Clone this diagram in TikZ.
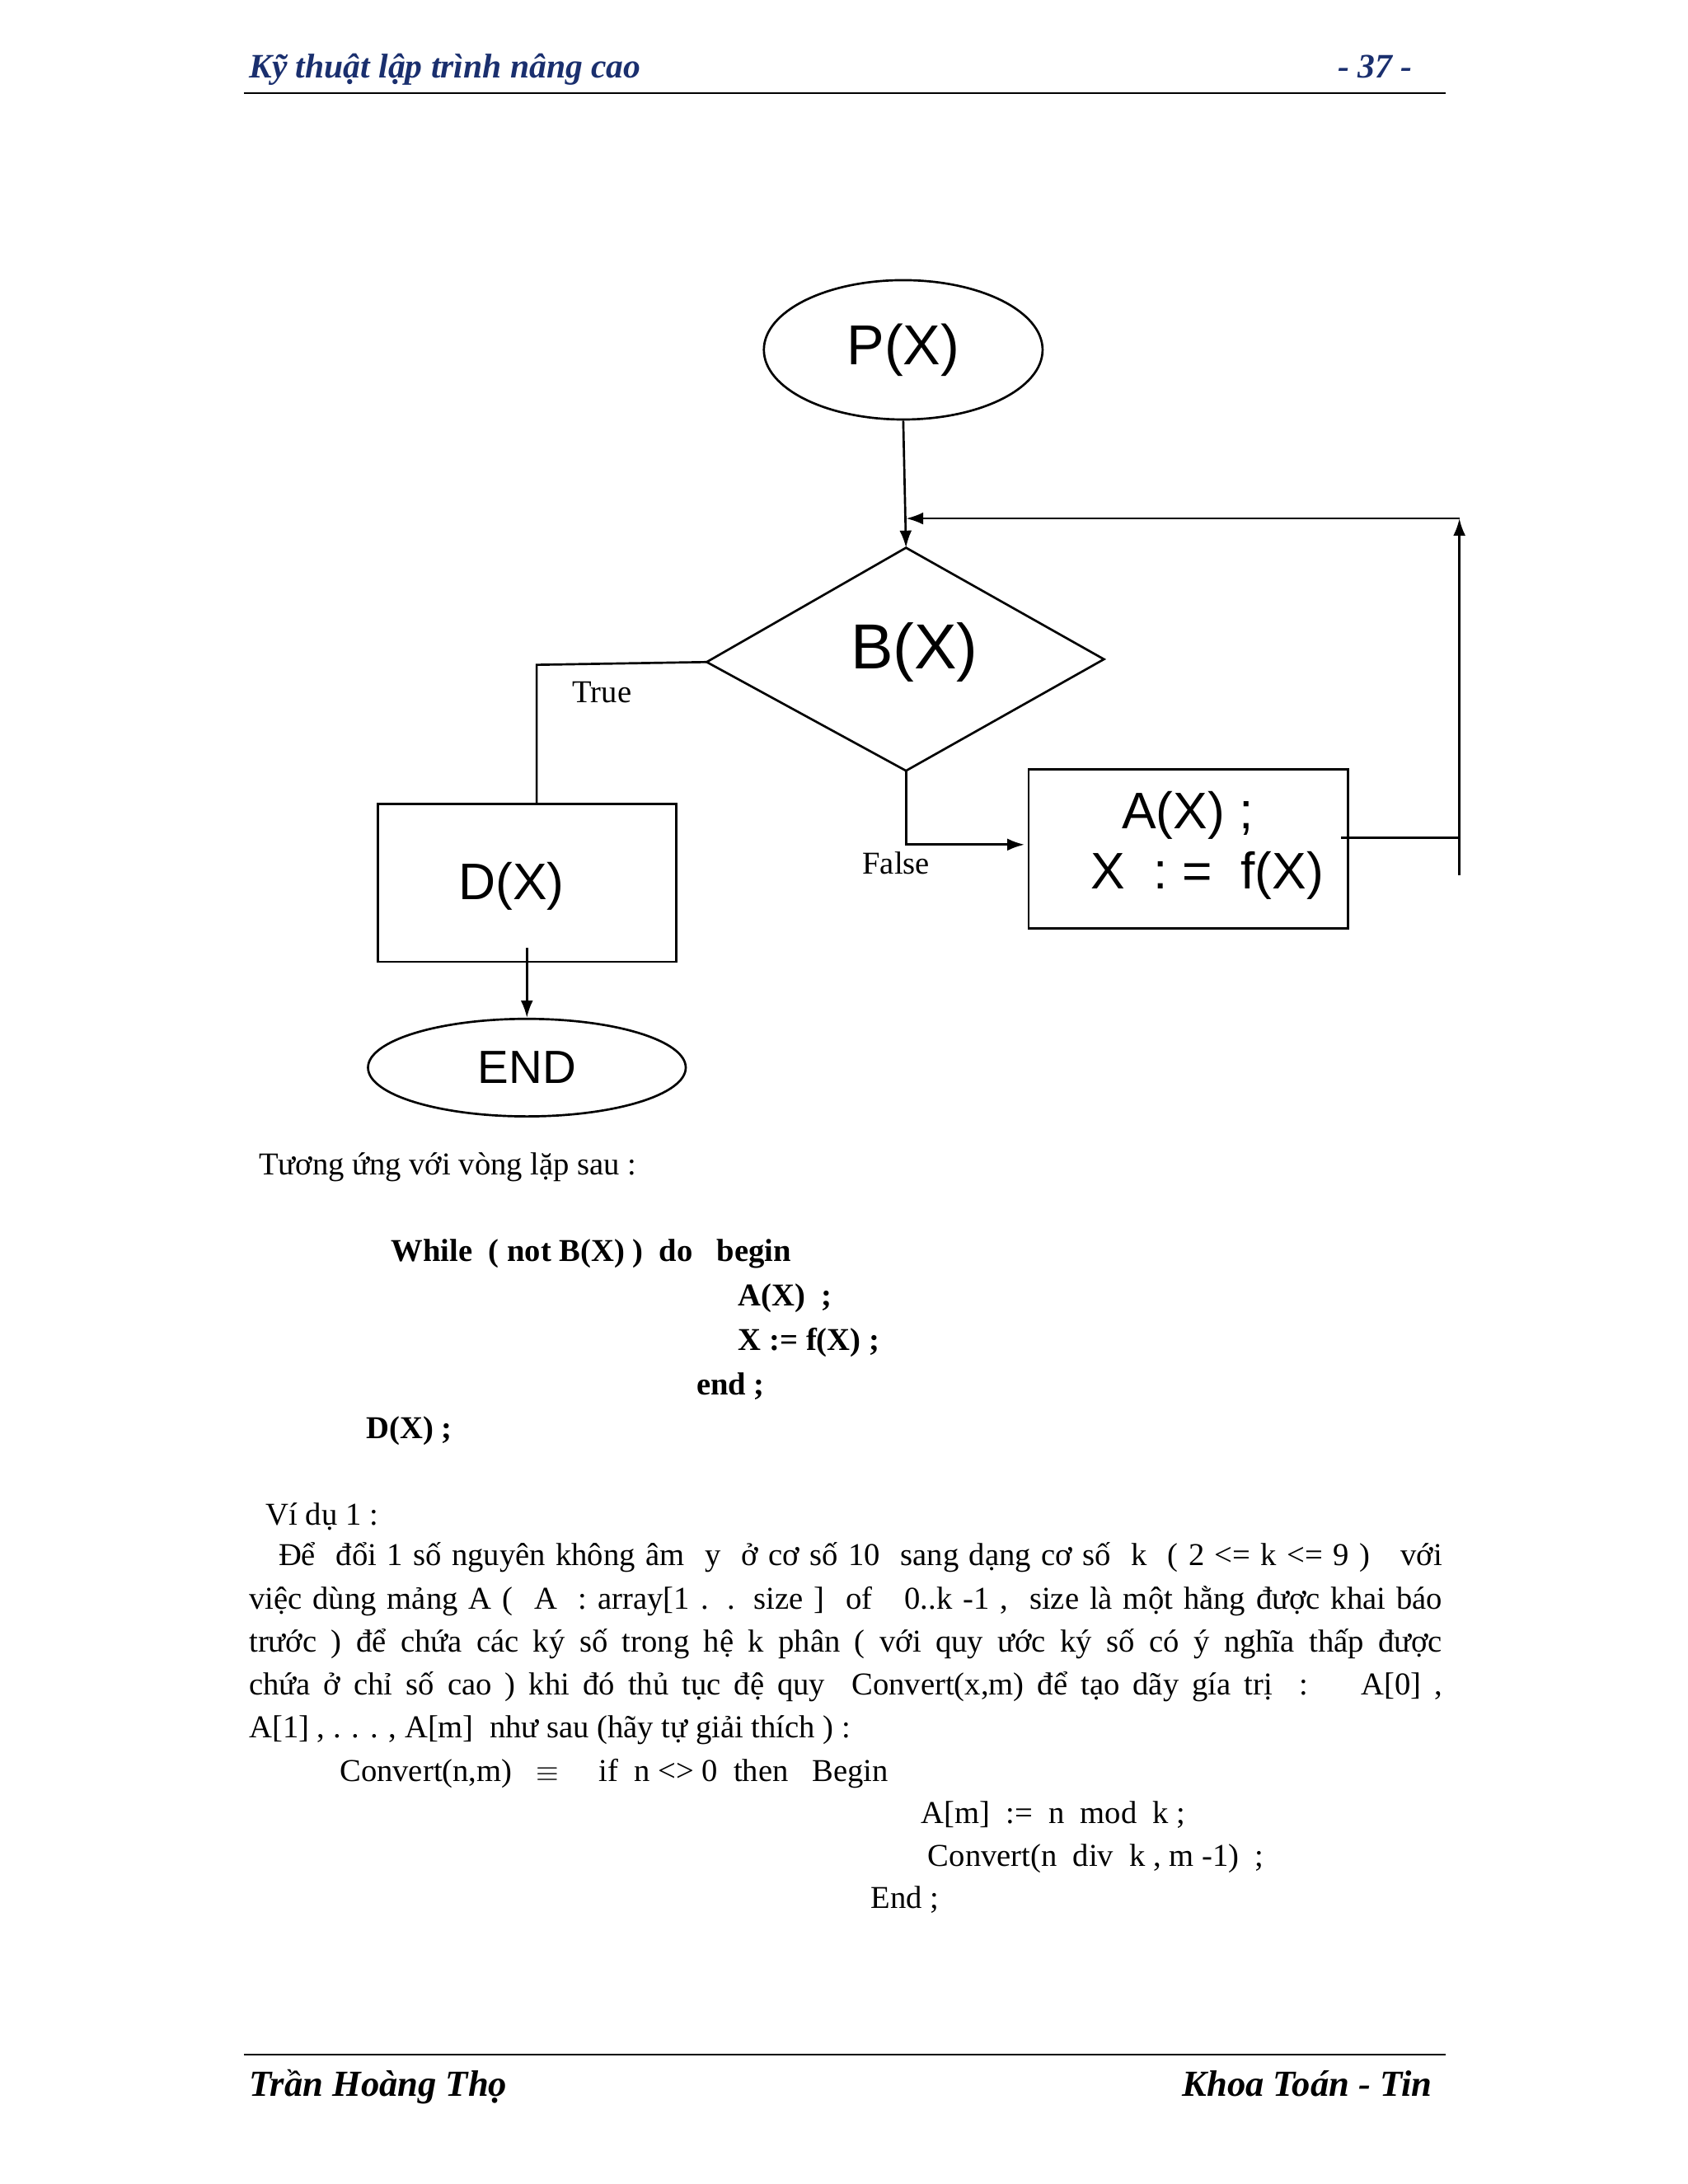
\documentclass[tikz,border=0pt]{standalone}
\usepackage{fontspec}
\setmainfont{Liberation Serif}
\newfontfamily\sfd{Liberation Sans}
\usetikzlibrary{shapes.geometric,arrows.meta}
\definecolor{hdr}{HTML}{1A2F6E}
\begin{document}
\begin{tikzpicture}[x=0.02cm,y=-0.02cm,
  line width=0.9pt,
  arr/.style={-{Latex[length=7pt,width=5pt]}},
  body/.style={anchor=base west,inner sep=0,font=\fontsize{13}{15}\selectfont},
  code/.style={body,font=\fontsize{13}{15}\selectfont\bfseries},
  lab/.style={font=\sfd\fontsize{21}{24}\selectfont}]
\useasboundingbox (0,0) rectangle (1211,1567);
% header
\node[anchor=base west,inner sep=0,text=hdr,font=\fontsize{14}{16}\selectfont\bfseries\itshape] (h1) at (178,56) {Kỹ thuật lập trình nâng cao};
\node[anchor=base east,inner sep=0,text=hdr,font=\fontsize{14}{16}\selectfont\bfseries\itshape] (h2) at (1014,56) {- 37 -};
\draw[line width=0.8pt] (175,67) -- (1037,67);
% flowchart
\node[ellipse,draw,inner sep=0,minimum width=4cm,minimum height=2cm,font=\sfd\fontsize{23}{26}\selectfont] (P) at (648,251) {P(X)};
\coordinate (dt) at (650,393);
\coordinate (dl) at (507,475);
\coordinate (dr) at (792,473);
\coordinate (db) at (650,553);
\draw (dt) -- (dr) -- (db) -- (dl) -- cycle;
\node[font=\sfd\fontsize{26}{30}\selectfont] (B) at (656,468) {B(X)};
\draw[arr] (P.south) -- (dt);
\node[draw,inner sep=0,minimum width=4.28cm,minimum height=2.26cm] (D) at (378,633.5) {};
\node[lab] (Dt) at (367,636) {D(X)};
\node[draw,inner sep=0,minimum width=4.58cm,minimum height=2.28cm] (A) at (852.5,609) {};
\node[lab] (At1) at (852,585) {A(X) ;};
\node[lab] (At2) at (866,628) {X\ \ : =\ \ f(X)};
\node[ellipse,draw,inner sep=0,minimum width=4.56cm,minimum height=1.4cm,font=\sfd\fontsize{19}{22}\selectfont] (E) at (378,766) {END};
\draw (dl) -- (385,477) -- (385,577);
\node[body] (tl) at (410,504) {True};
\draw[arr] (db) -- (650,606) -- (735,606);
\node[body] (fl) at (618,627) {False};
\draw[arr] (378,680) -- (E.north);
\draw (962,601) -- (1047,601);
\coordinate (lb) at (1047,628);
\coordinate (lt) at (1047,372);
\draw[arr] (lb) -- (lt);
\draw[arr] (1047,372) -- (650,372);
% text
\node[body] (t1) at (185,843) {Tương ứng với vòng lặp sau :};
\node[code] (c1) at (280,905) {While\ \ ( not B(X) )\ \ do\ \ \ begin};
\node[code] (c2) at (529,937) {A(X)\ \ ;};
\node[code] (c3) at (529,969) {X := f(X) ;};
\node[code] (c4) at (499,1001) {end ;};
\node[code] (c5) at (262,1032) {D(X) ;};
\node[body] (v1) at (190,1094) {Ví dụ 1 :};
\node[anchor=north west,inner sep=0,text width=856*0.02cm,align=justify,font=\fontsize{13}{17.6}\selectfont] (par) at (178,1106) {%
\hspace*{12pt}Để\ \ đổi 1 số nguyên không âm\ \ y\ \ ở cơ số 10\ \ sang dạng cơ số\ \ k\ \ ( 2 <= k <= 9 )\ \ \ với\linebreak
việc dùng mảng A (\ \ A\ \ : array[1 . . size ]\ \ of\ \ \ 0..k -1 ,\ \ size là một hằng được khai báo\linebreak
trước ) để chứa các ký số trong hệ k phân ( với quy ước ký số có ý nghĩa thấp được\linebreak
chứa ở chỉ số cao ) khi đó thủ tục đệ quy\ \ Convert(x,m) để tạo dãy gía trị\ \ :\ \ \ \ A[0] ,\linebreak
A[1] , . . . , A[m]\ \ như sau (hãy tự giải thích ) :};
\node[body] (k1) at (243,1278) {Convert(n,m)\ \ \ $\equiv$\ \ \ \ \ if\ \ n <> 0\ \ then\ \ \ Begin};
\node[body] (k2) at (660,1308) {A[m]\ \ :=\ \ n\ \ mod\ \ k ;};
\node[body] (k3) at (665,1339) {Convert(n\ \ div\ \ k , m -1)\ \ ;};
\node[body] (k4) at (624,1369) {End ;};
% footer
\draw[line width=0.8pt] (175,1474) -- (1037,1474);
\node[anchor=base west,inner sep=0,font=\fontsize{15}{18}\selectfont\bfseries\itshape] (f1) at (178,1504) {Trần Hoàng Thọ};
\node[anchor=base east,inner sep=0,font=\fontsize{15}{18}\selectfont\bfseries\itshape] (f2) at (1028,1504) {Khoa Toán - Tin};
\end{tikzpicture}
\end{document}
